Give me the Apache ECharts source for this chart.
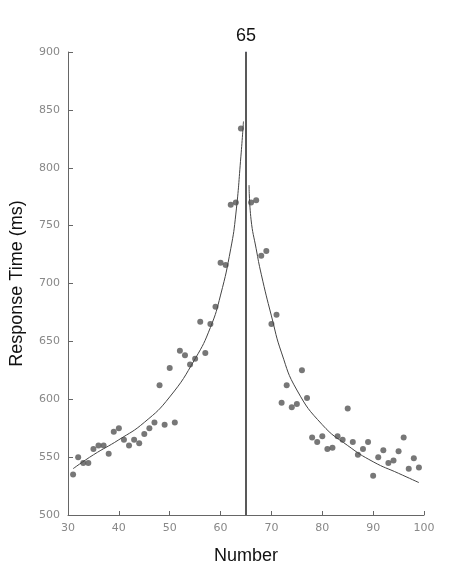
<!DOCTYPE html><html><head><meta charset="utf-8"><script src="https://cdn.jsdelivr.net/npm/echarts@6/dist/echarts.min.js"></script></head><body style="margin:0;background:#fff"><div id="c" style="width:464px;height:578px"></div><script>
const leftX=[31,32,33,34,35,36,37,38,39,40,41,42,43,44,45,46,47,48,49,50,51,52,53,54,55,56,57,58,59,60,61,62,63,64];
const leftY=[535,550,545,545,557,560,560,553,572,575,565,560,565,562,570,575,580,612,578,627,580,642,638,630,635,667,640,665,680,718,716,768,770,834];
const rightX=[66,67,68,69,70,71,72,73,74,75,76,77,78,79,80,81,82,83,84,85,86,87,88,89,90,91,92,93,94,95,96,97,98,99];
const rightY=[770,772,724,728,665,673,597,612,593,596,625,601,567,563,568,557,558,568,565,592,563,552,557,563,534,550,556,545,547,555,567,540,549,541];
const fitLX=[31,35,40,45,50,55,58,60,62,63,64,64.5];
const fitLY=[540,552,565,580,602,635,662,690,730,760,810,840];
const fitRX=[65.6,66,67,68,70,72,75,80,85,90,95,99];
const fitRY=[785,755,730,708,672,640,608,578,560,546,536,528];
const z=(a,b)=>a.map((v,i)=>[v,b[i]]);
const ch=echarts.init(document.getElementById('c'));
const lab={color:'#888',fontSize:11,fontFamily:'DejaVu Sans'};
ch.setOption({animation:false,
grid:{left:65,right:40,top:52,bottom:63,containLabel:false},
xAxis:{type:'value',min:30,max:100,interval:10,name:'Number',nameLocation:'middle',nameGap:32,nameTextStyle:{fontSize:18,color:'#111',fontFamily:'Liberation Sans'},axisLine:{lineStyle:{color:'#666'}},axisTick:{inside:true,length:4},splitLine:{show:false},axisLabel:lab},
yAxis:{type:'value',min:500,max:900,interval:50,name:'Response Time (ms)',nameLocation:'middle',nameGap:42,nameTextStyle:{fontSize:18,color:'#111',fontFamily:'Liberation Sans'},axisLine:{show:true,lineStyle:{color:'#666'}},axisTick:{show:true,inside:true,length:5},splitLine:{show:false},axisLabel:lab},
series:[
{type:'scatter',data:z(leftX,leftY),symbolSize:6,itemStyle:{color:'#555'}},
{type:'scatter',data:z(rightX,rightY),symbolSize:6,itemStyle:{color:'#555'}},
{type:'line',smooth:true,showSymbol:false,data:z(fitLX,fitLY),lineStyle:{color:'#444',width:1}},
{type:'line',smooth:true,showSymbol:false,data:z(fitRX,fitRY),lineStyle:{color:'#444',width:1}},
{type:'line',showSymbol:false,data:[[65,500],[65,900]],lineStyle:{color:'#222',width:1.5},
 markPoint:{symbol:'rect',symbolSize:1,data:[{coord:[65,900],label:{show:true,formatter:'65',position:'top',distance:6,fontSize:18,color:'#111',fontFamily:'Liberation Sans'}}]}}
]});
</script></body></html>
